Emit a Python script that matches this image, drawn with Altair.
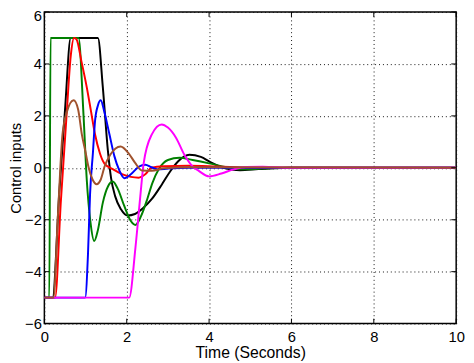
import altair as alt
import pandas as pd

# ---- data ----
t_black = [0, 0.2, 0.36, 0.5, 0.64, 1.30, 1.42, 1.54, 1.62, 1.72, 1.86, 2.02, 2.2, 2.4, 2.61, 2.85, 3.05, 3.25, 3.52, 3.8, 4.03, 4.42, 4.75, 5.2, 6.0, 10]
u_black = [-5, -5, -1.0, 2.2, 5, 5, 3.1, 0.7, -0.4, -1.1, -1.6, -1.84, -1.78, -1.55, -1.2, -0.65, -0.15, 0.25, 0.5, 0.42, 0.22, -0.03, -0.09, -0.05, 0, 0]

t_green = [0, 0.12, 0.15, 0.83, 0.95, 1.03, 1.12, 1.21, 1.3, 1.42, 1.55, 1.66, 1.78, 1.94, 2.1, 2.21, 2.35, 2.5, 2.62, 2.78, 3.0, 3.28, 3.6, 4.03, 4.42, 4.8, 5.3, 6.0, 10]
u_green = [-5, -5, 5, 5, 2.05, -0.47, -2.1, -2.82, -2.4, -1.34, -0.7, -0.53, -0.8, -1.47, -2.05, -2.2, -1.85, -1.2, -0.6, -0.05, 0.3, 0.39, 0.3, 0.16, 0.02, -0.06, -0.03, 0, 0]

t_red = [0, 0.26, 0.4, 0.54, 0.64, 0.72, 0.78, 0.9, 1.03, 1.13, 1.23, 1.35, 1.46, 1.66, 1.9, 2.1, 2.29, 2.45, 2.6, 2.9, 3.5, 4.2, 5.0, 6, 10]
u_red = [-5, -5, -1.3, 2.05, 4.3, 5, 4.95, 4.1, 3.1, 2.2, 1.29, 0.55, 0.16, -0.05, -0.25, -0.35, -0.38, -0.25, 0.0, 0.06, 0.08, 0.05, 0.01, 0, 0]

t_blue = [0, 0.99, 1.06, 1.11, 1.18, 1.23, 1.3, 1.37, 1.45, 1.58, 1.7, 1.82, 1.94, 2.1, 2.3, 2.45, 2.6, 2.76, 3.0, 3.5, 10]
u_blue = [-5, -5, -3.3, -1.0, 0.6, 1.8, 2.4, 2.6, 2.2, 1.29, 0.45, -0.1, -0.4, -0.25, 0.05, 0.12, 0.02, -0.06, -0.03, 0, 0]

t_magenta = [0, 2.06, 2.21, 2.33, 2.41, 2.61, 2.85, 3.0, 3.2, 3.4, 3.6, 3.75, 4.0, 4.3, 4.6, 4.9, 5.3, 6, 10]
u_magenta = [-5, -5, -3.1, -1.09, 0.16, 1.29, 1.67, 1.55, 1.15, 0.5, 0.05, -0.12, -0.33, -0.22, -0.06, 0.03, 0.04, 0, 0]

t_brown = [0, 0.22, 0.33, 0.44, 0.55, 0.71, 0.82, 0.91, 1.0, 1.07, 1.17, 1.27, 1.37, 1.46, 1.6, 1.85, 2.05, 2.2, 2.37, 2.61, 2.9, 3.5, 10]
u_brown = [-5, -5, -1.8, 1.29, 2.17, 2.6, 2.25, 1.29, 0.6, 0.04, -0.45, -0.63, -0.45, 0.04, 0.5, 0.82, 0.55, 0.2, -0.1, -0.11, -0.02, 0.02, 0]

series_names = ["black", "green", "red", "blue", "magenta", "brown"]
series_colors = ["#000000", "#008000", "#ff0000", "#0000ff", "#ff00ff", "#a0522d"]

x_ticks = [0, 2, 4, 6, 8, 10]
y_ticks = [-6, -4, -2, 0, 2, 4, 6]

series_data = {
    "black": (t_black, u_black),
    "green": (t_green, u_green),
    "red": (t_red, u_red),
    "blue": (t_blue, u_blue),
    "magenta": (t_magenta, u_magenta),
    "brown": (t_brown, u_brown),
}

rows = []
for name in series_names:
    ts, us = series_data[name]
    for i, (t, u) in enumerate(zip(ts, us)):
        rows.append({"t": t, "u": u, "s": name, "i": i})
df = pd.DataFrame(rows)

W, H = 419, 317
FONT = "Liberation Sans"

xscale = alt.Scale(domain=[0, 10], nice=False, zero=False)
yscale = alt.Scale(domain=[-6, 6], nice=False, zero=False)

xaxis = alt.Axis(title="Time (Seconds)", values=x_ticks, labelFlush=False,
                 tickSize=0, labelPadding=6, titlePadding=1, domain=False,
                 labelFontSize=15, titleFontSize=16,
                 grid=True, gridDash=[1, 3], gridColor="#111", gridWidth=1)
yaxis = alt.Axis(title="Control inputs", values=y_ticks, tickSize=0,
                 labelPadding=3, titlePadding=1, domain=False,
                 labelFontSize=15, titleFontSize=15,
                 labelOffset={"condition": {"test": "datum.value === 6", "value": 4}, "value": 0},
                 grid=True, gridDash=[1, 3], gridColor="#111", gridWidth=1)

X = alt.X("t:Q", scale=xscale, axis=xaxis, title="Time (Seconds)")
Y = alt.Y("u:Q", scale=yscale, axis=yaxis, title="Control inputs")

lines = alt.Chart(df).mark_line(strokeWidth=2, interpolate="monotone", clip=True).encode(
    x=X, y=Y,
    color=alt.Color("s:N", scale=alt.Scale(domain=series_names, range=series_colors), legend=None),
    order="i:Q",
)

xt = pd.DataFrame({"t": x_ticks})
yt = pd.DataFrame({"u": y_ticks})

tick_bottom = alt.Chart(xt).mark_rule(color="black", strokeWidth=1).encode(
    x=X, y=alt.value(H), y2=alt.value(H - 5))
tick_top = alt.Chart(xt).mark_rule(color="black", strokeWidth=1).encode(
    x=X, y=alt.value(0), y2=alt.value(5))
tick_left = alt.Chart(yt).mark_rule(color="black", strokeWidth=1).encode(
    y=Y, x=alt.value(0), x2=alt.value(5))
tick_right = alt.Chart(yt).mark_rule(color="black", strokeWidth=1).encode(
    y=Y, x=alt.value(W), x2=alt.value(W - 5))

chart = alt.layer(lines, tick_bottom, tick_top, tick_left, tick_right).properties(
    width=W, height=H,
    autosize=alt.AutoSizeParams(type="none"),
    padding={"left": 37, "top": 1, "right": 10, "bottom": 37},
).configure_view(
    stroke="black", strokeWidth=1.5
).configure_axis(
    labelFont=FONT, titleFont=FONT,
    titleFontWeight="normal", labelColor="black", titleColor="black",
)

chart.save("out.html", embed_options={"renderer": "svg", "actions": False})
